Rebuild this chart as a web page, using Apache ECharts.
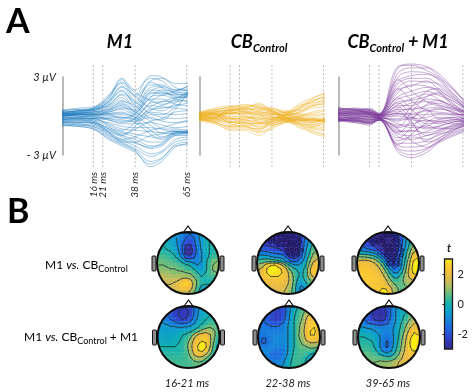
<!DOCTYPE html>
<html>
<head>
<meta charset="utf-8">
<style>html,body{margin:0;padding:0;background:#fff}#chart{width:474px;height:392px}</style>
<script src="https://cdn.jsdelivr.net/npm/echarts@6/dist/echarts.min.js"></script>
</head>
<body>
<div id="chart"></div>
<script>
// panel A: time knots (ms) and traces (uV)
const m1Times = [-0.8, 8, 16, 24, 31, 38, 46, 52, 59, 66];
const cbTimes = [-0.8, 8, 16, 24, 31, 38, 46, 52, 59, 66];
const cbm1Times = [-0.8, 8, 16, 21, 31, 38, 46, 52, 59, 66];
const cutTimes = [16, 21, 38, 65];
const voltTicks = [-3, 3];
const voltLabels = { '3': '3 µV', '-3': '- 3 µV' };

const m1Traces = [
  [.4,.5,.6,1.5,2.9,2.0,2.9,2.7,2.0,2.3],
  [.3,.4,.5,1.3,2.8,1.6,3.1,3.0,2.2,1.9],
  [.45,.6,.7,1.6,2.5,1.5,2.7,2.9,2.5,2.5],
  [.2,.4,.6,1.2,2.3,1.2,2.4,2.4,1.7,1.6],
  [.3,.3,.5,1.0,2.0,1.0,2.6,2.2,1.4,1.8],
  [.4,.5,.4,1.1,1.9,.9,2.2,2.3,2.0,2.1],
  [.1,.3,.4,.9,1.6,.7,2.0,1.9,1.5,1.4],
  [.2,.4,.5,.8,1.4,.6,1.8,1.7,1.9,2.3],
  [.1,.2,.3,.7,1.2,.4,1.7,1.8,1.6,1.7],
  [.3,.3,.2,.6,1.0,.3,1.5,1.6,1.3,1.1],
  [.2,.2,.3,.5,.8,.2,1.3,1.3,.9,.8],
  [0,.1,.2,.4,.7,.1,1.0,1.1,1.2,1.6],
  [.1,.2,.1,.3,.5,0,.8,.7,.6,.5],
  [0,.1,0,.2,.3,-.1,.5,.6,.8,1.0],
  [.2,.1,.1,.1,.1,-.2,.3,.2,.1,.2],
  [-.1,0,0,0,-.1,-.3,.1,-.1,-.2,-.1],
  [0,0,-.1,-.2,-.4,-.4,-.1,-.4,-.5,-.3],
  [-.2,-.1,-.2,-.3,-.6,-.6,-.5,-.7,-.9,-.8],
  [-.3,-.2,-.3,-.5,-.8,-.9,-.9,-1.0,-1.0,-1.1],
  [-.1,-.2,-.2,-.6,-1.0,-1.1,-1.2,-1.3,-1.4,-1.2],
  [-.4,-.4,-.5,-.9,-1.2,-1.4,-1.6,-1.7,-1.3,-1.3],
  [-.3,-.3,-.4,-1,-1.3,-1.6,-2,-2,-1.5,-1.5],
  [-.5,-.5,-.6,-1.1,-1.5,-1.8,-2.3,-2.2,-1.3,-1.2],
  [-.4,-.5,-.5,-1.2,-1.6,-2,-2.5,-2.3,-1.5,-1.4],
  [-.6,-.6,-.7,-1.3,-1.8,-2.1,-2.4,-2.1,-1.2,-1.3],
  [-.5,-.6,-.8,-1.5,-1.9,-2.3,-2.9,-2.7,-1.8,-1.6],
  [-.6,-.7,-.8,-1.4,-2,-2.5,-3.1,-2.8,-2,-1.8],
  [-.7,-.7,-.9,-1.6,-2.1,-2.6,-3.5,-3.2,-2.2,-2],
  [-.7,-.8,-1,-1.7,-2.2,-2.7,-3.9,-3.5,-2.4,-2.1],
  [-.75,-.8,-1,-1.8,-2.3,-2.8,-3.7,-3.3,-2.3,-2.2],
  [.2,.3,.6,1.4,2.6,1.8,1.2,.9,1.3,1.9],
  [.3,.4,.5,1.1,2.2,1.5,.6,.4,1.0,1.8],
  [.1,.2,.4,.8,1.7,1.1,.2,.1,.7,1.7],
  [0,.2,.3,.5,1.1,.8,-.2,-.3,.5,1.9],
  [.1,.1,.2,.3,.6,.5,1.9,2.2,1.8,1.8],
  [-.1,.1,.1,.1,-.2,.2,1.4,2,1.9,2],
  [-.2,-.1,0,-.3,-.5,-.2,1.1,1.6,1.7,1.7],
  [-.3,-.2,-.2,-.7,-1.1,-.5,.7,1.1,1.4,1.5],
  [-.4,-.3,-.4,-1,-1.5,-.8,.4,.8,1.1,1.2],
  [-.2,-.2,-.3,-.8,-1.4,-1,-.4,-.2,.3,.4],
  [-.3,-.3,-.5,-1.2,-1.8,-1.6,-1.1,-.9,-.6,-.4],
  [-.5,-.4,-.6,-1.3,-2,-2,-1.5,-1.4,-1.2,-1.3],
  [-.1,-.1,-.2,-.2,-.3,-.5,-1.4,-1.8,-1.4,-1.3],
  [.1,0,-.1,-.1,-.1,-.3,-1.1,-1.6,-1.3,-1.2],
  [.2,.2,.1,.2,.2,-.1,-.7,-1.3,-1.1,-1.3],
  [0,.1,.1,.4,.9,.3,-.4,-1,-1.2,-1.1]
];

const cbTraces = [
  [.3,.6,.8,.7,.9,.5,.3,.7,1.3,1.8],
  [.2,.5,.7,.9,.7,.6,.2,.5,1.1,1.6],
  [.2,.4,.7,.6,1,.4,.1,.6,1.2,1.4],
  [.3,.5,.6,.5,.7,.3,.3,.8,1,1.2],
  [.1,.3,.5,.6,.5,.6,.4,.4,.8,1.1],
  [.2,.4,.4,.3,.6,.4,0,.3,.8,.9],
  [.1,.3,.4,.6,.3,.2,.1,.2,.6,.7],
  [.1,.2,.3,.2,.4,.5,.2,0,.3,.5],
  [.1,.2,.2,.4,.2,.1,.3,.1,.2,.4],
  [0,.1,.3,.1,.3,.3,-.1,0,.1,.2],
  [.1,.2,.2,.2,0,.2,0,.2,0,.1],
  [0,.1,.1,.3,.1,-.1,-.2,-.1,-.1,-.1],
  [0,0,.2,0,-.1,.1,.1,-.2,-.2,-.2],
  [-.1,0,0,-.1,-.2,-.2,0,-.1,-.3,-.3],
  [0,-.1,-.1,0,-.3,0,-.1,-.3,-.3,-.4],
  [-.1,-.1,-.2,-.2,-.1,-.3,-.2,0,-.2,-.3],
  [-.1,-.2,-.3,-.1,-.4,-.2,-.3,-.2,-.4,-.4],
  [-.2,-.2,-.2,-.3,-.5,-.4,-.1,-.3,-.5,-.3],
  [-.1,-.3,-.4,-.4,-.3,-.1,-.2,-.4,-.3,-.5],
  [-.2,-.2,-.5,-.3,-.6,-.5,-.3,-.1,-.6,-.6],
  [-.2,-.4,-.5,-.6,-.5,-.3,-.4,-.5,-.7,-.7],
  [-.3,-.3,-.7,-.5,-.8,-.6,-.2,-.6,-.8,-.9],
  [-.2,-.5,-.8,-.7,-.7,-.4,-.4,-.3,-.9,-1],
  [-.3,-.4,-.9,-.9,-1,-.7,-.5,-.7,-1,-1.1],
  [-.3,-.5,-.8,-.8,-1.3,-.8,-.3,-.8,-1.1,-1.4],
  [-.4,-.6,-1,-1,-1.2,-1,-.5,-.6,-1.3,-1.6],
  [-.3,-.5,-1.1,-1.1,-1.5,-.9,-.4,-.9,-1.2,-1.5],
  [.2,.3,-.2,-.5,-.9,-.3,.3,.9,1.4,1.7],
  [.1,.2,-.4,-.7,-1.1,-.5,.1,.6,1.1,1.5],
  [.1,.1,-.6,-.8,-1,-.4,.2,.5,.9,1.3],
  [0,.1,-.5,-.5,-.6,-.2,.1,.3,.7,1],
  [-.1,-.1,.4,.7,.8,.3,-.3,-.6,-.9,-.4],
  [-.2,-.1,.6,.8,.6,.2,-.2,-.5,-.7,-.3],
  [-.2,-.3,.3,.5,.4,0,-.3,-.4,-.5,-.2],
  [0,-.1,.5,.3,.1,.4,-.4,-.3,-.4,-.3],
  [.2,.3,.5,.4,-.5,-.6,-.1,-.3,-.3,-.35],
  [-.1,.1,-.1,-.3,.2,-.7,-.4,-.2,-.3,-.3]
];

const cbm1Traces = [
  [.6,.5,.5,.2,3.7,4,3.8,3.3,2.3,1.1],
  [.5,.6,.3,.1,3.8,3.9,3.5,3,2.1,1.2],
  [.7,.4,.6,.2,3.3,3.7,3.7,3.1,2.2,1],
  [.4,.6,.5,.1,3,3.4,3.3,2.8,1.8,.9],
  [.5,.3,.4,.2,2.7,3.1,3.2,2.9,1.9,.8],
  [.6,.5,.2,0,2.5,2.9,2.9,2.4,1.6,.7],
  [.3,.4,.5,.1,2.2,2.7,2.6,2.5,1.7,.6],
  [.4,.2,.3,.1,2,2.3,2.7,2.1,1.3,.5],
  [.5,.5,.1,0,1.8,2.4,2.3,2,1.4,.7],
  [.2,.3,.4,.1,1.5,1.9,2.2,1.9,1,.4],
  [.3,.1,.2,-.1,1.3,1.6,1.9,1.6,1.2,.6],
  [.4,.3,.3,0,1.1,1.2,1.5,1.7,.9,.3],
  [.2,.2,.1,-.1,.9,1.3,1.7,1.3,.7,.4],
  [.1,.3,.2,0,.8,.8,1.3,1.2,.8,.2],
  [.3,.1,.3,.1,.6,1,1.1,.9,.5,.3],
  [.1,.2,0,-.1,.5,.5,.8,1,.6,.1],
  [.2,0,.1,0,.3,.6,.6,.7,.3,0],
  [0,.1,.1,-.1,.2,.2,.4,.5,.4,-.1],
  [.1,-.1,0,-.2,.1,.1,.1,.2,.1,-.2],
  [0,0,-.1,-.1,0,-.2,-.1,.1,.1,.1],
  [-.1,-.1,0,-.2,-.2,-.3,-.4,-.3,-.1,-.2],
  [0,-.2,-.2,-.1,-.4,-.1,-.6,-.5,-.3,-.3],
  [-.2,-.1,-.1,-.2,-.7,-.6,-.3,-.6,-.4,-.4],
  [-.1,-.3,-.3,-.1,-.6,-.9,-.8,-.4,-.6,-.5],
  [-.3,-.2,-.2,-.2,-.9,-.7,-1,-.8,-.5,-.3],
  [-.2,-.4,-.4,-.3,-1.1,-1.2,-.7,-1,-.8,-.6],
  [-.3,-.3,-.3,-.2,-1.2,-1.1,-1.3,-1.1,-.7,-.5],
  [-.4,-.2,-.5,-.3,-1.4,-1.5,-1.2,-.9,-1,-.7],
  [-.3,-.4,-.4,-.2,-1.6,-1.8,-1.5,-1.3,-.9,-.6],
  [-.4,-.3,-.6,-.3,-1.9,-1.6,-1.8,-1.5,-1.1,-.8],
  [-.2,-.4,-.5,-.2,-2.1,-2.1,-1.9,-1.4,-1.2,-.7],
  [-.4,-.3,-.6,-.3,-2.3,-2.4,-2.2,-1.7,-1.3,-.9],
  [-.3,-.4,-.5,-.3,-2.5,-2.7,-2.5,-1.9,-1.4,-1],
  [-.4,-.5,-.7,-.3,-2.8,-3.2,-2.8,-2.1,-1.6,-1.2],
  [-.3,-.5,-.6,-.3,-2.6,-3,-2.6,-2,-1.5,-1.1],
  [.5,.4,.4,.1,2.8,1.9,1.1,.8,.6,.3],
  [.4,.5,.3,.1,2.1,1.2,.4,.3,.2,.1],
  [.3,.3,.2,0,1.4,.5,-.3,-.4,-.3,-.2],
  [.2,.4,.3,.1,1,0,-.9,-.8,-.5,-.4],
  [.1,.2,.2,0,.4,-.6,-1.5,-1.2,-.8,-.5],
  [0,0,0,-.1,-.3,.7,1.9,2.1,1.5,.6],
  [-.1,-.2,-.1,-.2,-.8,.3,1.5,1.8,1.1,.2],
  [-.2,-.1,-.3,-.2,-1.3,-.3,.9,1.2,.8,0],
  [-.3,-.3,-.4,-.2,-1.7,-.9,.2,.6,.3,-.2],
  [-.2,-.4,-.5,-.3,-2.2,-1.4,-.5,-.1,-.1,-.4],
  [-.3,-.2,-.3,-.2,-1,-1.9,-2.4,-2,-1.2,-.6],
  [.1,0,.1,0,.2,-.4,-2,-1.8,-1,-.7],
  [.2,.1,.2,0,.7,-.1,.5,-.2,-.2,-.5]
];

// panel B: t value per scalp cell, rows run front to back, columns left to right
const mapA1 = [
  [-.6,-.6,-.6,-.7,-.8,-.9,-1.1,-1.4,-1.6,-1.4,-.9,-.4,-.1,0,0,0],
  [-.4,-.4,-.5,-.6,-.7,-.9,-1.2,-1.6,-1.8,-1.6,-1,-.5,-.2,0,.1,.1],
  [-.2,-.2,-.3,-.4,-.6,-.9,-1.4,-1.9,-2.1,-1.8,-1.1,-.6,-.2,0,.1,.1],
  [0,0,-.1,-.3,-.5,-.9,-1.6,-2.4,-2.5,-2,-1.2,-.6,-.2,0,.1,.1],
  [.1,.1,0,-.1,-.4,-.8,-1.6,-2.7,-2.9,-2.1,-1.3,-.7,-.2,0,.1,.1],
  [.3,.3,.2,.1,-.1,-.6,-1.5,-2.6,-2.8,-2.1,-1.3,-.8,-.3,0,.2,.2],
  [.5,.5,.4,.3,.1,-.2,-1,-1.9,-2.1,-1.7,-1.2,-.8,-.3,.1,.4,.4],
  [.7,.7,.6,.5,.4,.2,-.2,-.8,-1,-1.1,-1.1,-.8,-.2,.3,.7,.8],
  [.8,.8,.7,.7,.6,.5,.3,.1,-.1,-.5,-.8,-.8,-.2,.4,.8,1],
  [.9,.9,.9,.8,.8,.7,.6,.4,.3,0,-.4,-.6,-.2,.4,.9,1],
  [1.1,1.1,1.1,1,.9,.9,.9,.8,.7,.5,0,-.3,0,.4,.7,.8],
  [1.4,1.4,1.3,1.2,1.2,1.2,1.2,1.2,1.1,.8,.4,0,.1,.3,.4,.5],
  [1.6,1.6,1.5,1.5,1.5,1.6,2,2.2,1.9,1.2,.6,.2,.1,.1,.2,.3],
  [1.7,1.7,1.6,1.6,1.7,1.9,2.4,2.6,2.3,1.4,.6,.1,0,0,.1,.2],
  [1.6,1.6,1.6,1.6,1.7,1.8,2.2,2.3,2,1.2,.4,-.3,-.5,-.4,0,.1],
  [1.5,1.5,1.5,1.5,1.6,1.6,1.7,1.7,1.5,.9,.2,-.5,-.7,-.5,-.2,0]
];
const mapA2 = [
  [-2.6,-2.6,-2.7,-2.8,-2.8,-2.8,-2.9,-2.9,-2.9,-2.8,-2.6,-2.2,-1.6,-1,-.6,-.4],
  [-2.5,-2.5,-2.6,-2.8,-2.9,-2.9,-2.9,-2.9,-3,-2.9,-2.7,-2.2,-1.5,-.8,-.3,-.1],
  [-2.4,-2.4,-2.5,-2.7,-2.8,-2.9,-2.9,-3,-3,-2.9,-2.7,-2.2,-1.3,-.6,0,.2],
  [-2.2,-2.2,-2.4,-2.5,-2.6,-2.7,-2.8,-2.9,-3,-3,-2.8,-2.2,-1.2,-.4,.2,.4],
  [-1.9,-1.9,-2,-2.1,-2.2,-2.3,-2.5,-2.8,-3,-3,-2.8,-2.1,-1,-.2,.5,.7],
  [-1.2,-1.2,-1.3,-1.5,-1.6,-1.7,-1.9,-2.4,-2.9,-3,-2.7,-1.9,-.8,0,.8,1],
  [-.4,-.4,-.4,-.6,-.8,-.9,-1.1,-1.6,-2.4,-2.7,-2.3,-1.5,-.6,.3,1.1,1.4],
  [.3,.4,.5,.5,.4,.2,-.2,-.9,-1.5,-1.8,-1.6,-1,-.4,.6,1.5,1.8],
  [1,1.2,2,2.5,2.6,2.3,1.5,.6,-.2,-.7,-.8,-.6,-.1,1,1.9,2.2],
  [1.5,1.9,2.6,3,3,2.8,2.5,1.7,.7,.2,-.2,-.3,.2,1.3,2.2,2.4],
  [1.7,2.1,2.6,2.9,2.9,2.8,2.6,2.1,1.2,.5,.1,-.2,.3,1.4,2.2,2.3],
  [1.8,2.1,2.4,2.6,2.6,2.6,2.4,2,1.4,.7,.1,-.2,.3,1.1,1.7,1.8],
  [1.9,2,2.1,2.2,2.2,2.3,2.2,1.9,1.5,.7,-.1,-.3,.1,.7,1,1.1],
  [1.9,1.9,2,2,2,2.1,2,1.8,1.4,.6,-.4,-.7,-.3,.3,.6,.7],
  [1.8,1.8,1.8,1.8,1.8,1.9,1.8,1.6,1.2,.5,-.6,-1,-.7,0,.4,.5],
  [1.7,1.7,1.7,1.7,1.7,1.7,1.7,1.5,1.1,.4,-.5,-.9,-.6,0,.3,.4]
];
const mapA3 = [
  [-2.3,-2.4,-2.5,-2.6,-2.7,-2.9,-3,-3,-3,-2.9,-2.7,-2,-1.2,-.6,-.2,0],
  [-2.1,-2.2,-2.4,-2.6,-2.7,-2.9,-3,-3,-3,-2.9,-2.6,-1.9,-1,-.3,.2,.3],
  [-2,-2.1,-2.3,-2.5,-2.7,-2.9,-3,-3,-3,-2.9,-2.6,-1.8,-.9,-.1,.5,.7],
  [-1.7,-1.8,-2.1,-2.3,-2.5,-2.8,-3,-3,-3,-2.9,-2.5,-1.7,-.8,.1,.8,1],
  [-1.1,-1.2,-1.4,-1.6,-2,-2.5,-2.9,-3,-3,-2.9,-2.4,-1.5,-.6,.4,1.2,1.4],
  [-.2,-.3,-.4,-.5,-.8,-1.5,-2.4,-2.9,-3,-2.9,-2.2,-1.3,-.3,.7,1.7,2],
  [.9,.9,.8,.6,.3,-.3,-1.3,-2.2,-2.8,-2.8,-2,-1.1,-.1,1,2.2,2.5],
  [1.7,1.8,1.8,1.6,1.3,.7,-.2,-1.4,-2.3,-2.6,-1.9,-.9,.2,1.3,2.6,2.9],
  [2.1,2.2,2.2,2.1,1.9,1.4,.7,-.5,-1.6,-2.3,-1.7,-.8,.4,1.6,2.8,3],
  [2.3,2.4,2.4,2.3,2.1,1.8,1.2,.3,-.8,-1.6,-1.4,-.6,.6,1.8,2.9,3],
  [2.4,2.5,2.5,2.5,2.3,2.1,1.6,.9,-.1,-.8,-.8,-.1,.9,1.9,2.7,2.9],
  [2.4,2.5,2.5,2.5,2.4,2.3,1.9,1.3,.5,-.2,-.2,.4,1.1,1.7,2.2,2.3],
  [2.3,2.4,2.5,2.5,2.5,2.4,2.2,1.7,1,.4,.3,.6,1.1,1.4,1.6,1.7],
  [2.2,2.3,2.4,2.4,2.4,2.3,2.2,1.9,1.4,.9,.6,.6,.9,1.1,1.2,1.2],
  [2.1,2.2,2.3,2.3,2.3,2.4,2.6,2.5,1.9,1.2,.8,.6,.7,.8,.8,.8],
  [2,2.1,2.2,2.2,2.3,2.5,2.9,2.9,2.2,1.3,.9,.6,.6,.6,.6,.6]
];
const mapB1 = [
  [-1.3,-1.5,-1.8,-2.1,-2.3,-2.4,-2.4,-2.4,-2.2,-1.5,-.9,-.5,-.3,-.2,-.1,0],
  [-1.2,-1.4,-1.7,-2,-2.3,-2.4,-2.5,-2.5,-2.3,-1.5,-.8,-.4,-.2,-.1,0,.1],
  [-1.1,-1.3,-1.6,-1.9,-2.3,-2.4,-2.5,-2.5,-2.2,-1.4,-.7,-.3,-.1,0,.1,.2],
  [-.9,-1,-1.3,-1.6,-2,-2.3,-2.4,-2.3,-1.9,-1.2,-.6,-.2,0,.1,.2,.3],
  [-.7,-.8,-.9,-1.1,-1.3,-1.5,-1.6,-1.5,-1.2,-.8,-.3,0,.2,.4,.4,.4],
  [-.6,-.6,-.6,-.7,-.7,-.8,-.8,-.7,-.6,-.3,0,.3,.6,.8,.7,.6],
  [-.5,-.5,-.5,-.5,-.5,-.4,-.3,-.2,-.1,.2,.7,1.1,1.3,1.2,.9,.6],
  [-.4,-.4,-.4,-.4,-.3,-.2,0,.1,.4,1.1,1.8,2,2.1,1.7,1,.5],
  [-.3,-.3,-.3,-.3,-.2,-.1,.1,.3,.9,1.7,2.1,2.3,2.4,1.8,.9,.3],
  [-.2,-.2,-.2,-.2,-.1,0,.2,.5,1.2,2,2.5,2.8,2.6,1.8,.8,.1],
  [0,0,0,0,0,.1,.2,.6,1.3,2.1,2.7,3,2.7,1.7,.6,-.1],
  [.1,.1,.1,.1,.1,.1,.2,.5,1.2,2,2.6,2.8,2.3,1.4,.4,-.2],
  [.2,.2,.2,.2,.2,.2,.3,.4,1,1.7,2.1,2.1,1.6,.9,.2,-.3],
  [.3,.3,.3,.3,.3,.3,.3,.4,.7,1.1,1.3,1.2,.8,.4,0,-.3],
  [.4,.4,.4,.4,.4,.4,.4,.4,.5,.7,.8,.7,.4,.2,0,-.2],
  [.5,.5,.5,.5,.5,.5,.5,.4,.5,.6,.6,.5,.3,.1,0,-.1]
];
const mapB2 = [
  [-1.6,-1.7,-1.9,-2.1,-2.2,-2.2,-2,-1.4,-.7,-.2,.1,.4,.6,.8,.9,.9],
  [-1.6,-1.7,-1.9,-2.1,-2.3,-2.3,-2.1,-1.4,-.6,-.1,.3,.6,1,1.3,1.4,1.4],
  [-1.5,-1.7,-1.9,-2.2,-2.4,-2.4,-2.1,-1.3,-.5,0,.4,.8,1.4,1.9,2,1.9],
  [-1.4,-1.6,-1.9,-2.2,-2.4,-2.3,-1.9,-1.2,-.5,.1,.5,.9,1.7,2.2,2.3,2.1],
  [-1.3,-1.5,-1.7,-1.9,-2,-1.9,-1.5,-1,-.4,.1,.6,1.1,1.9,2.4,2.5,2.2],
  [-1.2,-1.3,-1.4,-1.5,-1.5,-1.4,-1.2,-.9,-.4,.1,.7,1.2,2,2.5,2.6,2.3],
  [-1.2,-1.2,-1.2,-1.2,-1.2,-1.2,-1.1,-.9,-.4,.1,.7,1.3,2.1,2.6,2.7,2.4],
  [-1.3,-1.3,-1.2,-1.2,-1.1,-1.1,-1,-.9,-.4,.1,.8,1.2,2,2.6,2.6,2.3],
  [-1.5,-1.7,-1.5,-1.2,-1,-1,-1,-.9,-.4,.1,.7,1.1,1.8,2.3,2.3,2],
  [-1.5,-1.7,-1.5,-1.2,-1,-1,-1,-.9,-.4,.1,.6,.9,1.3,1.6,1.6,1.5],
  [-1.2,-1.2,-1.2,-1.1,-1.1,-1.1,-1.1,-.9,-.4,.1,.5,.7,.8,1,1,.9],
  [-1,-1,-1.1,-1.2,-1.4,-1.4,-1.3,-.9,-.3,.2,.4,.5,.5,.5,.4,.3],
  [-.9,-1,-1.2,-1.5,-1.6,-1.6,-1.3,-.8,-.2,.2,.4,.4,.3,0,-.2,-.2],
  [-.8,-.9,-1.1,-1.4,-1.5,-1.4,-1.1,-.6,-.1,.3,.4,.3,0,-.4,-.5,-.5],
  [-.7,-.8,-1,-1.2,-1.2,-1.1,-.9,-.4,0,.3,.4,.2,-.1,-.5,-.7,-.6],
  [-.6,-.7,-.8,-1,-1,-.9,-.7,-.3,.1,.3,.4,.2,-.1,-.5,-.6,-.5]
];
const mapB3 = [
  [-1.6,-1.8,-2.1,-2.3,-2.5,-2.6,-2.5,-2.2,-1.5,-.9,-.6,-.3,-.1,.1,.3,.3],
  [-1.5,-1.7,-2,-2.3,-2.5,-2.7,-2.6,-2.3,-1.5,-.9,-.5,-.2,0,.3,.5,.5],
  [-1.5,-1.7,-2,-2.3,-2.6,-2.8,-2.7,-2.3,-1.5,-.9,-.5,-.1,.2,.6,.8,.8],
  [-1.4,-1.6,-1.9,-2.2,-2.5,-2.7,-2.6,-2.1,-1.4,-.9,-.4,0,.4,.9,1.2,1.3],
  [-1.1,-1.2,-1.5,-1.7,-1.9,-2,-1.9,-1.7,-1.2,-.8,-.3,.2,.7,1.2,1.6,1.7],
  [-.7,-.8,-.9,-1,-1.1,-1.2,-1.2,-1.2,-1,-.7,-.2,.3,1,1.6,1.9,2],
  [-.3,-.4,-.5,-.6,-.8,-.9,-1,-1.1,-1,-.6,-.1,.5,1.2,2,2.5,2.4],
  [-.1,-.1,-.2,-.3,-.5,-.8,-1.1,-1.3,-1.1,-.6,0,.7,1.5,2.3,2.8,2.6],
  [.1,.1,0,-.1,-.3,-.7,-1.2,-1.5,-1.2,-.6,.1,.9,1.7,2.6,3,2.8],
  [.2,.2,.2,.1,-.2,-.7,-1.3,-1.7,-1.3,-.5,.2,1,1.8,2.7,3,2.8],
  [.3,.3,.3,.2,-.1,-.7,-1.3,-1.7,-1.2,-.4,.3,1.1,1.9,2.6,3,2.7],
  [.4,.4,.4,.3,.1,-.4,-1,-1.3,-.9,-.2,.5,1.2,2,2.5,2.7,2.4],
  [.6,.6,.6,.5,.4,.1,-.3,-.5,-.3,.2,.8,1.5,2,2.2,2.2,2],
  [.7,.7,.7,.7,.7,.6,.5,.4,.4,.7,1.1,1.7,2,2,1.9,1.8],
  [.8,.8,.8,.8,.8,.9,.9,.9,1,1.2,1.6,1.8,1.9,1.8,1.7,1.6],
  [.9,.9,.9,.9,.9,1,1,1.1,1.2,1.4,1.7,1.8,1.8,1.7,1.6,1.5]
];

// significant electrodes, in scalp cell units
const sigA2 = [[4.2,1.6],[5.5,.8],[6.8,.8],[8.1,1.2],[9.4,1.2],[10.7,1.6],[3.4,2.5],[4.7,2.5],[5.9,2.1],[7.2,2.1],[8.5,2.5],[9.8,2.5],[11.1,2.5],[5.5,3.4],[6.8,3.4],[8.1,3.5],[9.4,3.5],[10.7,3.5],[7.7,4.7],[9,4.7],[10.3,4.7],[11.6,4.7],[8.1,5.8],[9.4,5.8],[10.7,5.8]];
const sigA3 = [[3.5,2],[4.8,1.9],[6.1,1.5],[7.4,.9],[8.7,.8],[10,1.2],[4.2,2.9],[5.5,2.7],[6.8,2.3],[9.4,2.3],[10.7,2.3],[7.2,3.5],[8.5,3.5],[9.8,3.5],[11.1,3.5],[7.7,4.7],[9,4.7],[10.3,4.7],[11.6,4.7],[7.5,6],[8.8,6],[10.1,6],[11.4,6],[8.1,7.2],[9.4,7.2],[10.7,7.2],[8.1,8.3],[9.4,8.3],[10.7,8.3]];

const contourLevels = [-2.4, -1.6, -0.8, 0, 0.8, 1.6, 2.6];
const colorbarTicks = [-2, 0, 2];
const parula = ['#352a87', '#3236b8', '#2a52d8', '#1a6fe0', '#1688d8', '#0ea0cc', '#12b0b0', '#4cbb8c', '#95be6c', '#cbbb58', '#eebc40', '#fac832', '#f9f010'];

const textFont = 'Lato, "Liberation Sans", sans-serif';
const cells = Array.from({ length: 16 }, (_, i) => i);
const headR = 31;

const grid = [], xAxis = [], yAxis = [], series = [], graphic = [];
const heatSeries = [];

function addWavePanel(left, color, times, traces, labelled) {
  const g = grid.length;
  grid.push({ left, width: 123.9, top: 77, height: 78 });
  xAxis.push({
    gridIndex: g, type: 'value', min: 0, max: 65,
    axisLine: { show: false }, axisTick: { show: false }, splitLine: { show: false },
    // the blank label at 0 keeps the min-label overlap check away from 16 and 21
    axisLabel: labelled ? {
      customValues: [0].concat(cutTimes), rotate: 90, margin: 17, fontSize: 10, fontStyle: 'italic',
      fontFamily: textFont, color: '#222', hideOverlap: false,
      formatter: v => (v ? v + ' ms' : ' ')
    } : { show: false }
  });
  yAxis.push({
    gridIndex: g, type: 'value', min: -3, max: 3,
    axisLine: { show: true, lineStyle: { color: '#a3a3a3', width: 1.5 } },
    axisTick: { show: false }, splitLine: { show: false },
    axisLabel: labelled ? {
      customValues: voltTicks, margin: 7, fontSize: 11, fontStyle: 'italic',
      fontFamily: textFont, color: '#222', formatter: v => voltLabels[v]
    } : { show: false }
  });
  cutTimes.forEach(t => {
    series.push({
      type: 'line', xAxisIndex: g, yAxisIndex: g, clip: false, showSymbol: false, silent: true,
      data: [[t, 3.9], [t, -4]], z: 1,
      lineStyle: { color: '#b0a8a8', width: 0.8, type: [2, 2] }
    });
  });
  traces.forEach(tr => {
    series.push({
      type: 'line', xAxisIndex: g, yAxisIndex: g, clip: false, showSymbol: false, silent: true,
      smooth: 0.35, data: tr.map((v, i) => [times[i], v]),
      lineStyle: { color, width: 0.7, opacity: 0.6 }
    });
  });
}

addWavePanel(62.8, '#1f7cc0', m1Times, m1Traces, true);
addWavePanel(199.5, '#eeae18', cbTimes, cbTraces, false);
addWavePanel(339, '#7c3c9c', cbm1Times, cbm1Traces, false);

function contourSegments(map, level) {
  const segs = [];
  const edge = (a, b, x0, y0, x1, y1) => {
    const f = (level - a) / (b - a);
    return [x0 + (x1 - x0) * f, y0 + (y1 - y0) * f];
  };
  for (let r = 0; r < 15; r++) {
    for (let c = 0; c < 15; c++) {
      const x = c + 0.5, y = r + 0.5;
      const tl = map[r][c], tr = map[r][c + 1], br = map[r + 1][c + 1], bl = map[r + 1][c];
      const pts = [];
      if ((tl < level) !== (tr < level)) pts.push(edge(tl, tr, x, y, x + 1, y));
      if ((tr < level) !== (br < level)) pts.push(edge(tr, br, x + 1, y, x + 1, y + 1));
      if ((bl < level) !== (br < level)) pts.push(edge(bl, br, x, y + 1, x + 1, y + 1));
      if ((tl < level) !== (bl < level)) pts.push(edge(tl, bl, x, y, x, y + 1));
      for (let i = 0; i + 1 < pts.length; i += 2) {
        if (Math.hypot(pts[i][0] - 8, pts[i][1] - 8) < 8.2 && Math.hypot(pts[i + 1][0] - 8, pts[i + 1][1] - 8) < 8.2) {
          segs.push([pts[i], pts[i + 1]]);
        }
      }
    }
  }
  return segs;
}

function addHead(cx, cy, map, sig) {
  const g = grid.length;
  const rect = { left: cx - headR, top: cy - headR, width: headR * 2, height: headR * 2 };
  grid.push(rect);
  xAxis.push({ gridIndex: g, type: 'category', data: cells, show: false });
  yAxis.push({ gridIndex: g, type: 'category', data: cells, inverse: true, show: false });
  const data = [];
  map.forEach((row, r) => row.forEach((v, c) => {
    if (Math.hypot(c + 0.5 - 8, r + 0.5 - 8) < 9) data.push([c, r, v]);
  }));
  heatSeries.push(series.length);
  series.push({ type: 'heatmap', xAxisIndex: g, yAxisIndex: g, data, silent: true, z: 2, progressive: 0 });

  // overlay grid in cell units for contours and electrodes
  const o = grid.length;
  grid.push(rect);
  xAxis.push({ gridIndex: o, type: 'value', min: 0, max: 16, show: false });
  yAxis.push({ gridIndex: o, type: 'value', min: 0, max: 16, inverse: true, show: false });
  series.push({
    type: 'custom', xAxisIndex: o, yAxisIndex: o, silent: true, clip: false, z: 3,
    data: contourLevels.map(l => [8, 8, l]),
    renderItem(params, api) {
      const segs = contourSegments(map, api.value(2));
      return {
        type: 'group',
        children: segs.map(s => {
          const a = api.coord(s[0]), b = api.coord(s[1]);
          return {
            type: 'line',
            shape: { x1: a[0], y1: a[1], x2: b[0], y2: b[1] },
            style: { stroke: '#1a2a2a', lineWidth: 0.7, lineCap: 'round' }
          };
        })
      };
    }
  });
  if (sig) {
    series.push({
      type: 'scatter', xAxisIndex: o, yAxisIndex: o, data: sig, silent: true, symbol: 'circle', symbolSize: 3.6, z: 4,
      itemStyle: { color: 'rgba(30,20,90,0.35)', borderColor: '#0d0d30', borderWidth: 0.8 }
    });
  }
  // white mask outside the scalp, then nose, ears and outline
  graphic.push({ type: 'ring', silent: true, z: 50, shape: { cx, cy, r: headR + 7, r0: headR }, style: { fill: '#fff' } });
  graphic.push({
    type: 'polygon', silent: true, z: 51,
    shape: { points: [[cx - 5, cy - headR + 1], [cx, cy - headR - 6], [cx + 5, cy - headR + 1]] },
    style: { fill: '#fff', stroke: '#111', lineWidth: 1.2 }
  });
  [-1, 1].forEach(side => {
    graphic.push({
      type: 'rect', silent: true, z: 51,
      shape: { x: cx + side * (headR + 3) - 2, y: cy - 7, width: 4, height: 15, r: 1 },
      style: { fill: '#8d8d8d', stroke: '#111', lineWidth: 1 }
    });
  });
  graphic.push({ type: 'circle', silent: true, z: 52, shape: { cx, cy, r: headR }, style: { fill: 'none', stroke: '#0c0c0c', lineWidth: 2 } });
}

addHead(188, 263, mapA1, null);
addHead(288, 263, mapA2, sigA2);
addHead(388, 263, mapA3, sigA3);
addHead(188.5, 337, mapB1, null);
addHead(289, 337, mapB2, null);
addHead(389, 337, mapB3, null);

// colorbar frame and ticks, laid over the visualMap strip
const cg = grid.length;
grid.push({ left: 444.5, top: 259, width: 8, height: 90, show: true, borderColor: '#1a1a1a', borderWidth: 1.3, backgroundColor: 'transparent', z: 20 });
xAxis.push({ gridIndex: cg, type: 'value', show: false, min: 0, max: 1 });
yAxis.push({
  gridIndex: cg, type: 'value', position: 'right', min: -3, max: 3, z: 21,
  axisLine: { show: false }, splitLine: { show: false },
  axisTick: { customValues: colorbarTicks, inside: true, length: 2, lineStyle: { color: '#1a1a1a', width: 1 } },
  axisLabel: { customValues: colorbarTicks, margin: 5, fontSize: 11, fontFamily: textFont, color: '#222' }
});

const sub = { fontSize: 11, fontWeight: 'bold', fontStyle: 'italic', fontFamily: textFont, color: '#111', verticalAlign: 'bottom', padding: [0, 0, -3, 0] };
const big = { fontSize: 18, fontWeight: 'bold', fontStyle: 'italic', fontFamily: textFont, color: '#111' };
const rowText = { fontSize: 12, fontFamily: textFont, color: '#222' };
const rowRich = {
  n: rowText,
  i: Object.assign({}, rowText, { fontStyle: 'italic' }),
  s: Object.assign({}, rowText, { fontSize: 9, padding: [0, 0, -3, 0], verticalAlign: 'bottom' })
};
function addText(x, y, text, style) {
  graphic.push({ type: 'text', silent: true, z: 60, x, y, style: Object.assign({ text, textVerticalAlign: 'middle', verticalAlign: 'middle' }, style) });
}
addText(6, 22, 'A', { font: 'bold 34px ' + textFont, fill: '#000' });
addText(7, 212, 'B', { font: 'bold 34px ' + textFont, fill: '#000' });
addText(120, 42, '{b|M1}', { align: 'center', rich: { b: big } });
addText(259, 42, '{b|CB}{s|Control}', { align: 'center', rich: { b: big, s: sub } });
addText(398, 42, '{b|CB}{s|Control}{b| + M1}', { align: 'center', rich: { b: big, s: sub } });
addText(45, 265, '{n|M1 }{i|vs.}{n| CB}{s|Control}', { rich: rowRich });
addText(24, 337, '{n|M1 }{i|vs.}{n| CB}{s|Control}{n| + M1}', { rich: rowRich });
['16-21 ms', '22-38 ms', '39-65 ms'].forEach((t, i) => {
  addText([187, 288, 388][i], 383, t, { align: 'center', font: 'italic 11px ' + textFont, fill: '#222' });
});
addText(449, 248, 't', { align: 'center', font: 'italic bold 11px ' + textFont, fill: '#222' });

const chart = echarts.init(document.getElementById('chart'), null, { renderer: 'canvas' });
chart.setOption({
  animation: false,
  backgroundColor: '#fff',
  tooltip: { show: false },
  grid, xAxis, yAxis, series, graphic,
  visualMap: {
    type: 'continuous', min: -3, max: 3, seriesIndex: heatSeries, dimension: 2,
    orient: 'vertical', left: 444.5, top: 259, itemWidth: 8, itemHeight: 90, padding: 0,
    calculable: false, text: null, showLabel: false, hoverLink: false,
    textStyle: { fontSize: 0 },
    inRange: { color: parula }
  }
});
</script>
</body>
</html>
